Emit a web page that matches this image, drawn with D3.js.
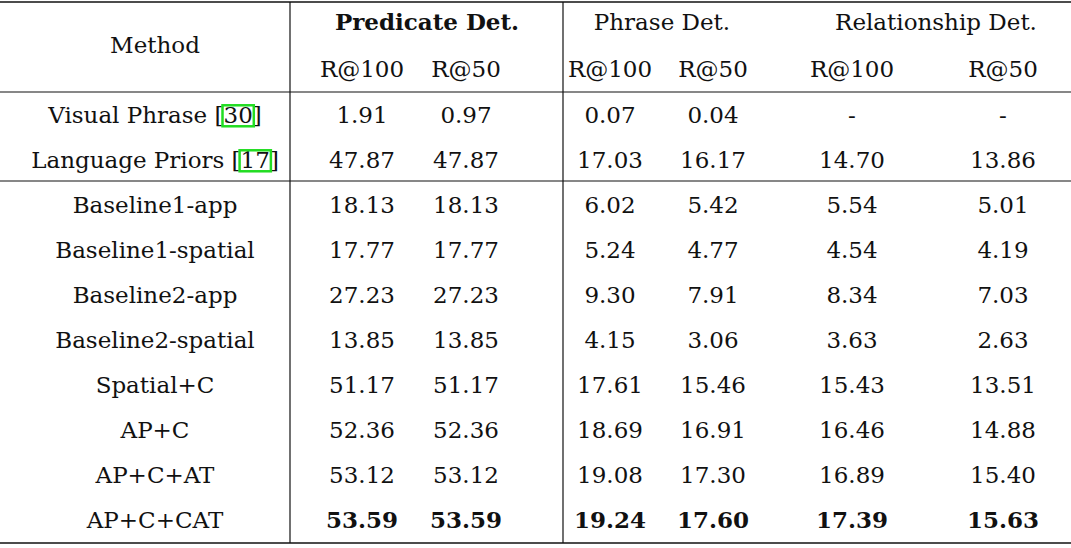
<!DOCTYPE html>
<html><head><meta charset="utf-8">
<script src="https://cdn.jsdelivr.net/npm/d3@7"></script>
<style>body{margin:0;background:#fff}text{font-family:"DejaVu Serif",serif;fill:#111}</style>
</head><body><svg id="c" width="1071" height="548"></svg>
<script>
const methods=["Visual Phrase","Language Priors","Baseline1-app","Baseline1-spatial","Baseline2-app","Baseline2-spatial","Spatial+C","AP+C","AP+C+AT","AP+C+CAT"];
const cites=["30","17",null,null,null,null,null,null,null,null];
const groups=["Predicate Det.","Phrase Det.","Relationship Det."];
const subCols=["R@100","R@50","R@100","R@50","R@100","R@50"];
const predR100=["1.91","47.87","18.13","17.77","27.23","13.85","51.17","52.36","53.12","53.59"];
const predR50=["0.97","47.87","18.13","17.77","27.23","13.85","51.17","52.36","53.12","53.59"];
const phrR100=["0.07","17.03","6.02","5.24","9.30","4.15","17.61","18.69","19.08","19.24"];
const phrR50=["0.04","16.17","5.42","4.77","7.91","3.06","15.46","16.91","17.30","17.60"];
const relR100=["-","14.70","5.54","4.54","8.34","3.63","15.43","16.46","16.89","17.39"];
const relR50=["-","13.86","5.01","4.19","7.03","2.63","13.51","14.88","15.40","15.63"];
const cols=[predR100,predR50,phrR100,phrR50,relR100,relR50];

const svg=d3.select("#c");
const fs=23;
const rowY=d3.scaleLinear().domain([0,9]).range([115,520]);
const xCol=d3.scaleOrdinal().domain(d3.range(6)).range([362,466,610,713,852,1003]);
const xGroup=d3.scaleOrdinal().domain(d3.range(3)).range([427,662,936]);

function t(x,yy,s,bold){return svg.append("text").attr("x",x).attr("y",yy).attr("dy","0.36em").attr("text-anchor","middle").attr("font-size",fs).attr("font-weight",bold?"bold":"normal").text(s);}
t(155,45,"Method");
groups.forEach((g,i)=>t(xGroup(i),22,g,i===0));
subCols.forEach((s,i)=>t(xCol(i),69,s));
methods.forEach((m,i)=>{
  const yy=rowY(i), last=i===methods.length-1;
  const tx=t(155,yy,m);
  if(cites[i]){
    tx.text(null);
    tx.append("tspan").text(m+" [");
    const ts=tx.append("tspan").text(cites[i]);
    tx.append("tspan").text("]");
    const bb=ts.node().getBBox();
    svg.append("rect").attr("x",bb.x-1).attr("y",bb.y+3).attr("width",bb.width+2).attr("height",bb.height-5)
      .attr("fill","none").attr("stroke","#22dd22").attr("stroke-width",2.5);
  }
  cols.forEach((c,j)=>t(xCol(j),yy,c[i],last));
});
const line=(x1,y1,x2,y2,w)=>svg.append("line").attr("x1",x1).attr("y1",y1).attr("x2",x2).attr("y2",y2).attr("stroke","#111").attr("stroke-width",w);
line(0,2,1071,2,1.6);
line(0,92,1071,92,1.2);
line(0,181,1071,181,1.2);
line(0,543,1071,543,1.6);
line(290,2,290,543,1.2);
line(563,2,563,543,1.2);
</script></body></html>
